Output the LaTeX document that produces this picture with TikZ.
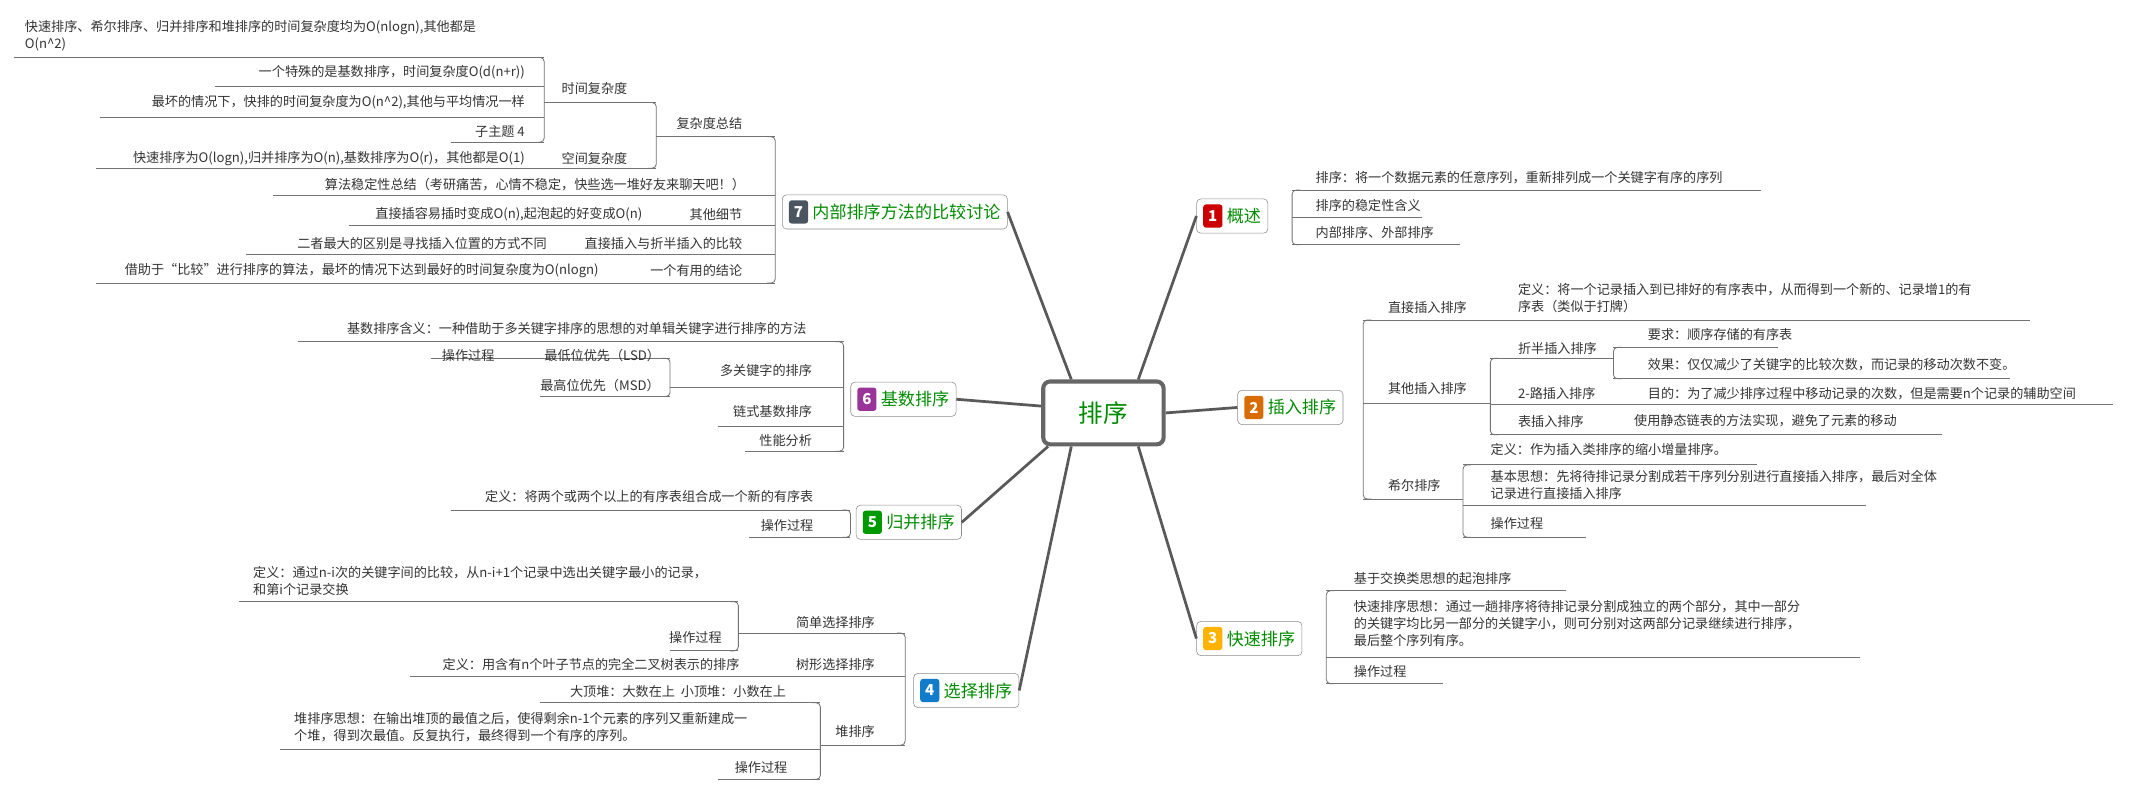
\documentclass[tikz,border=0pt]{standalone}
\usepackage{fontspec}
\setmainfont{Noto Sans CJK SC}
\definecolor{dk}{HTML}{4A5560}
\begin{document}
\begin{tikzpicture}[x=1pt,y=-1pt,
  t/.style={inner sep=0,anchor=west,font=\fontsize{9.6}{12.5}\selectfont,text=black!80,align=left},
  tr/.style={t,anchor=east},
  ln/.style={draw=black!55,line width=0.6pt},
  br/.style={draw=black!45,rounded corners=3pt,fill=white,minimum height=25pt,inner xsep=5pt,anchor=west,font=\fontsize{12.5}{14}\selectfont,text=green!55!black},
  badge/.style={rounded corners=2pt,text=white,inner sep=0,minimum width=14pt,minimum height=17pt,font=\bfseries\fontsize{11}{12}\selectfont},
  conn/.style={draw=black!65,line width=2pt}]
\useasboundingbox (0,0) rectangle (1560,580);
\newcommand\ul[3]{\draw[ln] (#1,#3) -- (#2,#3);}
\newcommand\vb[3]{\draw[ln,rounded corners=3pt] (#1+6,#2) -- (#1,#2) -- (#1,#3) -- (#1+6,#3);}
\newcommand\vbl[3]{\draw[ln,rounded corners=3pt] (#1-6,#2) -- (#1,#2) -- (#1,#3) -- (#1-6,#3);}
% center
\node[draw=black!60,line width=3pt,rounded corners=5pt,fill=white,minimum width=88pt,minimum height=46pt,font=\fontsize{18}{20}\selectfont,text=green!55!black] (c) at (807,302) {排序};
% branch boxes
\node[br] (b1) at (875,158) {\hspace{17pt}概述};
\node[br] (b2) at (905,298) {\hspace{17pt}插入排序};
\node[br] (b3) at (875,467) {\hspace{17pt}快速排序};
\node[br] (b4) at (668,505) {\hspace{17pt}选择排序};
\node[br] (b5) at (626,382) {\hspace{17pt}归并排序};
\node[br] (b6) at (622,292) {\hspace{17pt}基数排序};
\node[br] (b7) at (572,155) {\hspace{17pt}内部排序方法的比较讨论};
\node[badge,fill=red!80!black] at ([xshift=12pt]b1.west) {1};
\node[badge,fill=orange!85!black] at ([xshift=12pt]b2.west) {2};
\node[badge,fill=orange!60!yellow] at ([xshift=12pt]b3.west) {3};
\node[badge,fill=cyan!60!blue] at ([xshift=12pt]b4.west) {4};
\node[badge,fill=green!60!black] at ([xshift=12pt]b5.west) {5};
\node[badge,fill=violet!80] at ([xshift=12pt]b6.west) {6};
\node[badge,fill=dk] at ([xshift=12pt]b7.west) {7};
% connectors
\draw[conn] (c.north east) ++(-20,0) -- (b1.west);
\draw[conn] (c.east) -- (b2.west);
\draw[conn] (c.south east) ++(-20,0) -- (b3.west);
\draw[conn] (c.south west) ++(22,0) -- (b4.east);
\draw[conn] (c.south west) ++(5,0) -- (b5.east);
\draw[conn] (c.west) ++(0,-5) -- (b6.east);
\draw[conn] (c.north west) ++(22,0) -- (b7.east);
% ---------- 1
\vb{945}{139}{179}
\ul{945}{1288}{139}\node[t] at (962,130) {排序：将一个数据元素的任意序列，重新排列成一个关键字有序的序列};
\ul{945}{1040}{159}\node[t] at (962,150) {排序的稳定性含义};
\ul{945}{1068}{179}\node[t] at (962,170) {内部排序、外部排序};
% ---------- 2
\vb{997}{234}{365}
\ul{997}{1485}{234}\node[t] at (1015,225) {直接插入排序};
\node[t] at (1110,218) {定义：将一个记录插入到已排好的有序表中，从而得到一个新的、记录增1的有\\序表（类似于打牌）};
\ul{997}{1090}{295}\node[t] at (1015,284) {其他插入排序};
\vb{1090}{262}{318}
\ul{1090}{1180}{262}\node[t] at (1110,255) {折半插入排序};
\vb{1180}{254}{277}
\ul{1180}{1300}{254}\node[t] at (1205,245) {要求：顺序存储的有序表};
\ul{1180}{1470}{277}\node[t] at (1205,267) {效果：仅仅减少了关键字的比较次数，而记录的移动次数不变。};
\ul{1090}{1545}{296}\node[t] at (1110,288) {2-路插入排序};\node[t] at (1205,288) {目的：为了减少排序过程中移动记录的次数，但是需要n个记录的辅助空间};
\ul{1090}{1420}{318}\node[t] at (1110,308) {表插入排序};\node[t] at (1195,308) {使用静态链表的方法实现，避免了元素的移动};
\ul{997}{1070}{365}\node[t] at (1015,355) {希尔排序};
\vb{1070}{340}{393}
\ul{1070}{1285}{340}\node[t] at (1090,329) {定义：作为插入类排序的缩小增量排序。};
\ul{1070}{1365}{370}\node[t] at (1090,355) {基本思想：先将待排记录分割成若干序列分别进行直接插入排序，最后对全体\\记录进行直接插入排序};
\ul{1070}{1160}{393}\node[t] at (1090,383) {操作过程};
% ---------- 3
\vb{970}{432}{500}
\ul{970}{1145}{432}\node[t] at (990,423) {基于交换类思想的起泡排序};
\ul{970}{1360}{481}\node[t] at (990,456) {快速排序思想：通过一趟排序将待排记录分割成独立的两个部分，其中一部分\\的关键字均比另一部分的关键字小，则可分别对这两部分记录继续进行排序，\\最后整个序列有序。};
\ul{970}{1055}{500}\node[t] at (990,491) {操作过程};
% ---------- 4
\vbl{662}{463}{545}
\ul{540}{662}{463}\node[tr] at (640,455) {简单选择排序};
\vbl{540}{440}{476}
\ul{175}{540}{440}\node[t] at (185,425) {定义：通过n-i次的关键字间的比较，从n-i+1个记录中选出关键字最小的记录，\\和第i个记录交换};
\ul{490}{540}{476}\node[tr] at (528,466) {操作过程};
\ul{300}{662}{495}\node[tr] at (640,486) {树形选择排序};\node[tr] at (541,486) {定义：用含有n个叶子节点的完全二叉树表示的排序};
\ul{600}{662}{545}\node[tr] at (640,535) {堆排序};
\vbl{600}{514}{570}
\ul{395}{600}{514}\node[tr] at (575,506) {大顶堆：大数在上\ \ 小顶堆：小数在上};
\ul{205}{600}{548}\node[t] at (215,532) {堆排序思想：在输出堆顶的最值之后，使得剩余n-1个元素的序列又重新建成一\\个堆，得到次最值。反复执行，最终得到一个有序的序列。};
\ul{525}{600}{570}\node[tr] at (576,561) {操作过程};
% ---------- 5
\vbl{622}{373}{393}
\ul{330}{622}{373}\node[tr] at (595,363) {定义：将两个或两个以上的有序表组合成一个新的有序表};
\ul{548}{622}{393}\node[tr] at (595,384) {操作过程};
% ---------- 6
\vbl{617}{250}{330}
\ul{218}{617}{250}\node[tr] at (590,240) {基数排序含义：一种借助于多关键字排序的思想的对单辑关键字进行排序的方法};
\ul{490}{617}{283}\node[tr] at (594,271) {多关键字的排序};
\vbl{490}{262}{290}
\ul{315}{490}{262}\node[t] at (398,260) {最低位优先（LSD）};\node[t] at (323,260) {操作过程};
\ul{395}{490}{290}\node[t] at (395,282) {最高位优先（MSD）};
\ul{525}{617}{312}\node[tr] at (594,301) {链式基数排序};
\ul{545}{617}{330}\node[tr] at (594,322) {性能分析};
% ---------- 7
\vbl{567}{100}{207}
\ul{480}{567}{100}\node[tr] at (543,90) {复杂度总结};
\vbl{480}{75}{123}
\ul{398}{480}{75}\node[tr] at (459,65) {时间复杂度};
\vbl{398}{42}{104}
\ul{10}{398}{42}\node[t] at (18,26) {快速排序、希尔排序、归并排序和堆排序的时间复杂度均为O(nlogn),其他都是\\O(n\^{}2)};
\ul{157}{398}{63}\node[tr] at (384,53) {一个特殊的是基数排序，时间复杂度O(d(n+r))};
\ul{73}{398}{86}\node[tr] at (384,75) {最坏的情况下，快排的时间复杂度为O(n\^{}2),其他与平均情况一样};
\ul{330}{398}{104}\node[tr] at (384,96) {子主题 4};
\ul{70}{480}{123}\node[tr] at (459,116) {空间复杂度};\node[tr] at (384,116) {快速排序为O(logn),归并排序为O(n),基数排序为O(r)，其他都是O(1)};
\ul{200}{567}{143}\node[tr] at (545,135) {算法稳定性总结（考研痛苦，心情不稳定，快些选一堆好友来聊天吧！）};
\ul{255}{567}{165}\node[tr] at (543,157) {其他细节};\node[tr] at (470,157) {直接插容易插时变成O(n),起泡起的好变成O(n)};
\ul{180}{567}{186}\node[tr] at (543,178) {直接插入与折半插入的比较};\node[tr] at (400,178) {二者最大的区别是寻找插入位置的方式不同};
\ul{70}{567}{207}\node[tr] at (543,198) {一个有用的结论};\node[tr] at (438,198) {借助于“比较”进行排序的算法，最坏的情况下达到最好的时间复杂度为O(nlogn)};
\end{tikzpicture}
\end{document}
